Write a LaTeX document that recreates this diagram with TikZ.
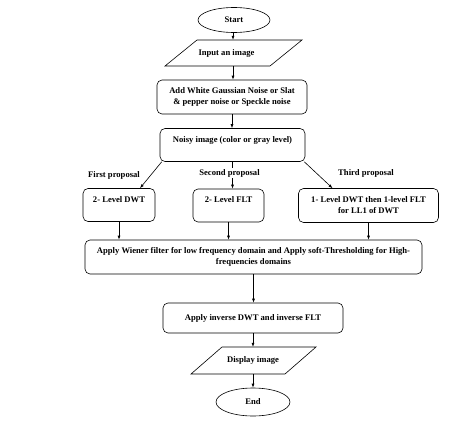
\documentclass[tikz,border=0pt]{standalone}
\usepackage{fontspec}
\setmainfont{Liberation Serif}
\usetikzlibrary{arrows.meta,shapes.geometric}
\begin{document}
\begin{tikzpicture}[x=1pt,y=-1pt,
  every node/.style={font=\bfseries\fontsize{8.6}{11}\selectfont, inner sep=0pt},
  proc/.style={draw, rounded corners=5pt, align=center, line width=0.6pt},
  term/.style={draw, ellipse, line width=0.6pt},
  shapeline/.style={draw, line width=0.6pt, line join=miter},
  arr/.style={-{Latex[length=4pt,width=3pt]}, line width=0.6pt},
  lbl/.style={fill=white, inner sep=1pt}]
\useasboundingbox (0,0) rectangle (474,431);

% terminals and parallelograms
\node[term, minimum width=72, minimum height=25] (start) at (234,20) {Start};

\draw[shapeline] (197,40) -- (302,40) -- (270,66) -- (165,66) -- cycle;
\node[minimum width=60, minimum height=26] (inp) at (233,53) {};
\node (inptext) at (226.5,53) {Input an image};

\node[proc, minimum width=150, minimum height=34] (add) at (232,97)
  {Add White Gaussian Noise or Slat\\ \& pepper noise or Speckle noise};

\node[proc, minimum width=145, minimum height=33] (noisy) at (232.5,145)
  {Noisy image (color or gray level)\\ \mbox{}};

\node[proc, minimum width=72, minimum height=33] (dwt) at (119,205)
  {2- Level DWT\\ \mbox{}};
\node[proc, minimum width=71, minimum height=33] (flt) at (228.5,205.5)
  {2- Level FLT\\ \mbox{}};
\node[proc, minimum width=140, minimum height=34] (third) at (368.5,205.5)
  {1- Level DWT then 1-level FLT\\ for LL1 of DWT};

\node[proc, minimum width=337, minimum height=34] (wiener) at (253.5,257)
  {Apply Wiener filter for low frequency domain and Apply soft-Thresholding for High-\\ frequencies domains};

\node[proc, minimum width=180, minimum height=30] (inverse) at (253,318)
  {Apply inverse DWT and inverse FLT};

\draw[shapeline] (222,347) -- (316,347) -- (285,374) -- (191,374) -- cycle;
\node[minimum width=56, minimum height=27] (disp) at (253,360.5) {Display image};

\node[term, minimum width=74, minimum height=28] (end) at (253,402) {End};

% connectors
\draw[arr] (start.south -| inp.north) -- (inp.north);
\draw[arr] (inp.south) -- (inp.south |- add.north);
\draw[arr] (add.south) -- (add.south |- noisy.north);
\draw[arr] ([xshift=2]noisy.south west) -- ([xshift=21]dwt.north);
\draw[arr] (noisy.south) -- (noisy.south |- flt.north);
\draw[arr] ([xshift=-1]noisy.south east) -- ([xshift=-36]third.north);
\draw[arr] (dwt.south) -- (dwt.south |- wiener.north);
\draw[arr] (flt.south) -- (flt.south |- wiener.north);
\draw[arr] (third.south) -- (third.south |- wiener.north);
\draw[arr] (wiener.south) -- (wiener.south |- inverse.north);
\draw[arr] (inverse.south) -- (disp.north);
\draw[arr] (disp.south) -- (end.north);

% labels
\node[lbl] (l1) at (114,175) {First proposal};
\node[lbl] (l2) at (229.5,173) {Second proposal};
\node[lbl] (l3) at (366,173) {Third proposal};
\end{tikzpicture}
\end{document}
